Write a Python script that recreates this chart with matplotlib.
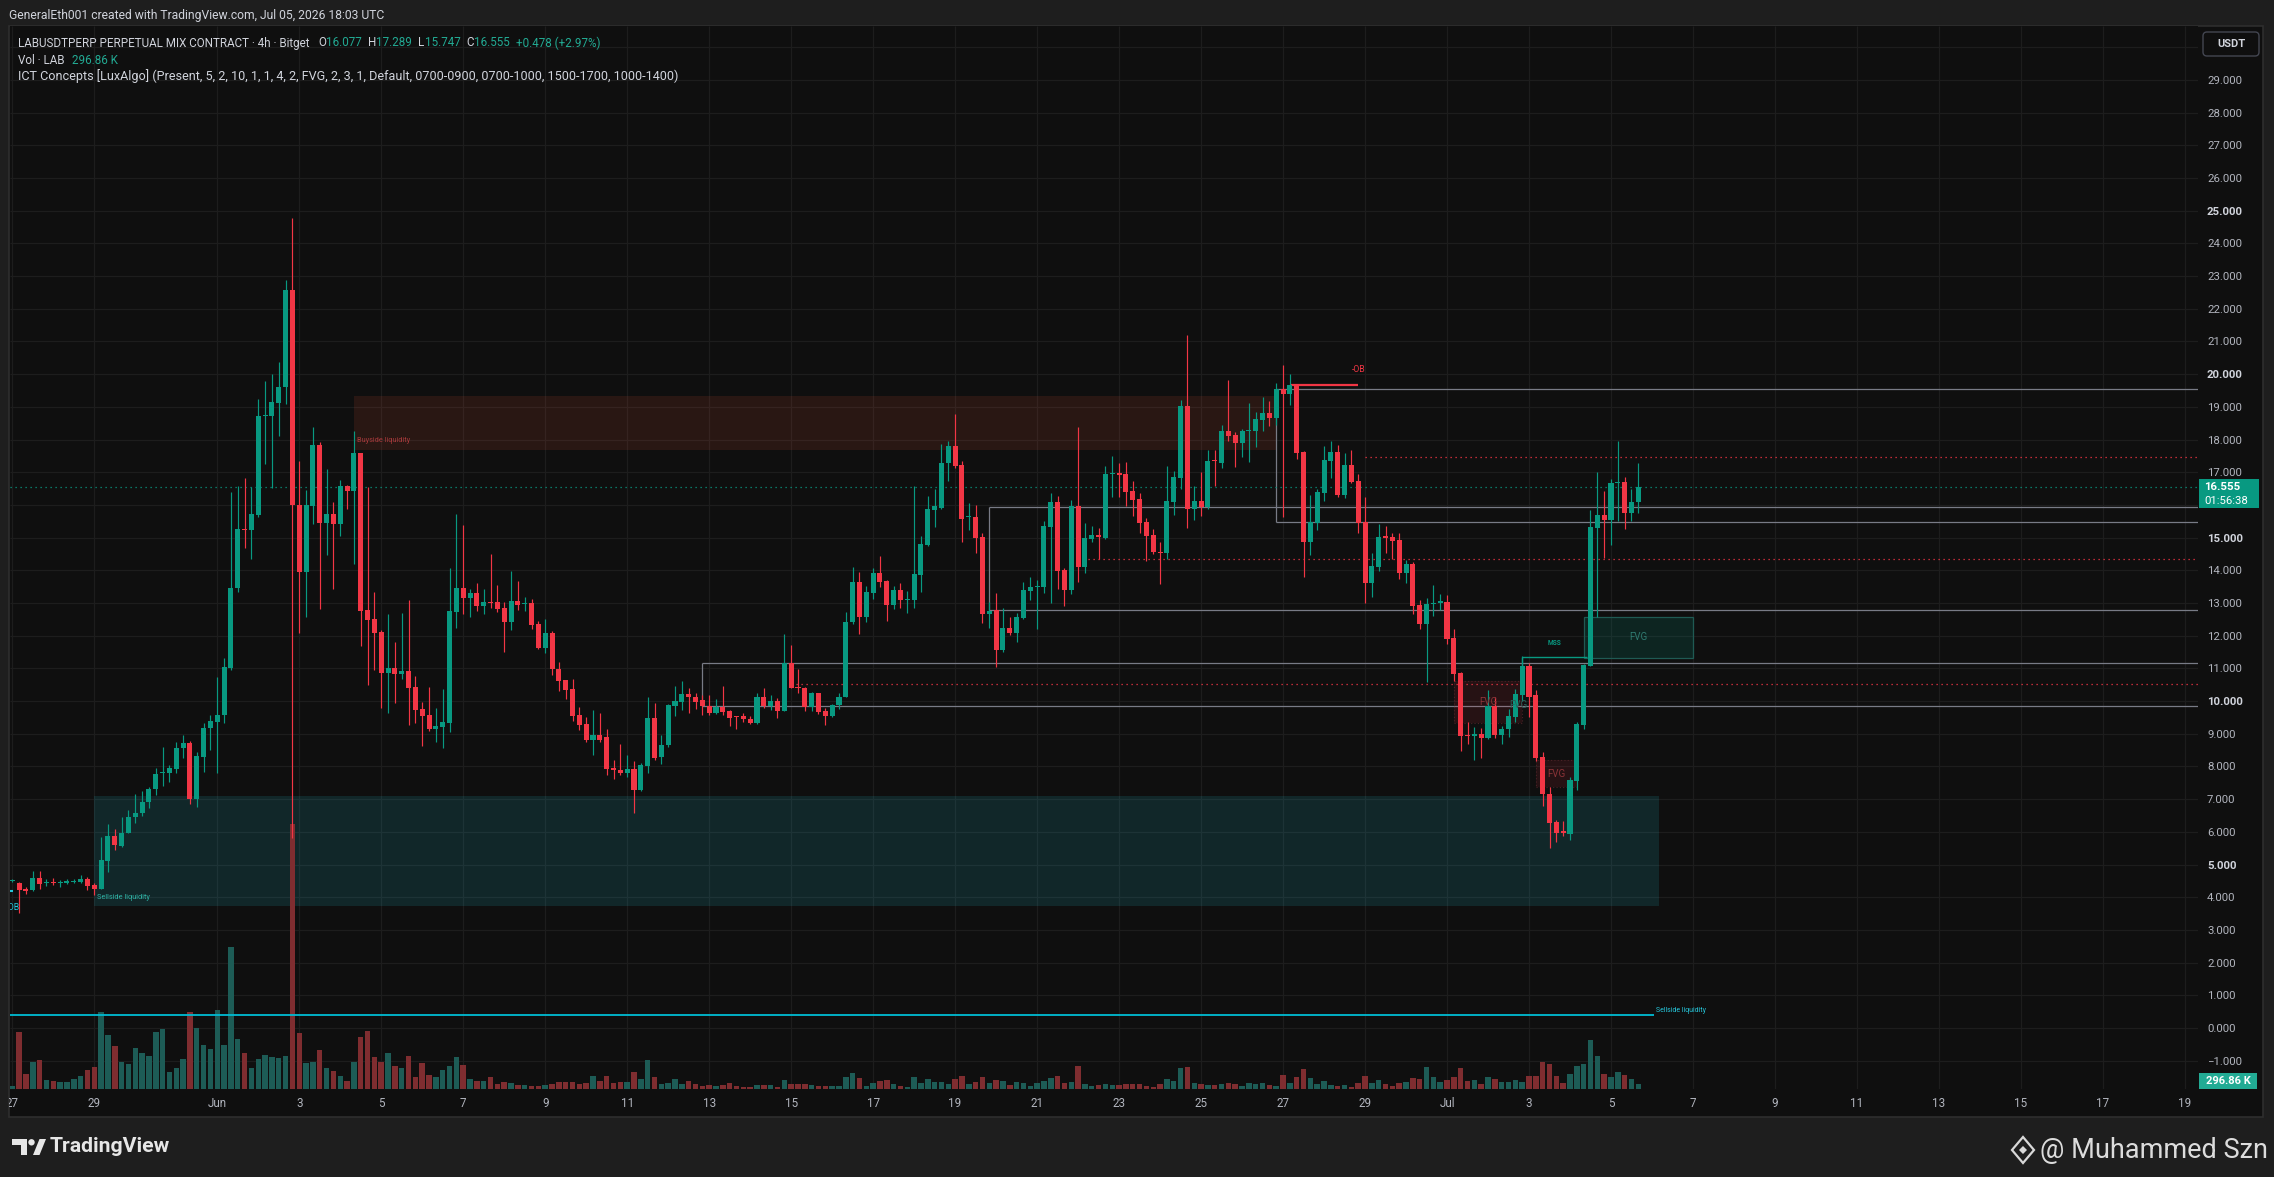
import matplotlib
matplotlib.use("Agg")
import matplotlib.pyplot as plt
import matplotlib.transforms as mtransforms
from matplotlib.patches import Rectangle, FancyBboxPatch, Polygon, Circle
import numpy as np
import pandas as pd

plt.rcParams['font.family'] = ['Roboto', 'DejaVu Sans']

W, H, DPI = 2274, 1177, 100

# ---------------- data (4h candles, LABUSDTPERP, Bitget) ----------------
start_time = "2026-05-27 00:00"

opens = [4.50, 4.45, 4.25, 4.21, 4.58, 4.44, 4.47, 4.43, 4.45, 4.46,
         4.47, 4.57, 4.38, 4.26, 5.12, 5.88, 5.58, 5.98, 6.44, 6.58,
         6.90, 7.30, 7.80, 7.79, 7.93, 8.55, 8.72, 7.02, 8.30, 9.19,
         9.37, 9.56, 11.02, 13.46, 15.25, 15.22, 15.70, 18.71, 18.73, 19.13,
         19.60, 22.57, 16.01, 13.95, 15.97, 17.83, 15.45, 15.73, 15.41, 16.57,
         16.43, 17.59, 12.78, 12.51, 12.11, 10.86, 11.00, 10.83, 10.92, 10.42,
         9.76, 9.58, 9.14, 9.21, 9.32, 12.72, 13.46, 13.14, 13.30, 12.92,
         13.04, 13.02, 12.85, 12.43, 13.06, 12.97, 12.99, 12.37, 11.63, 12.07,
         10.97, 10.63, 10.37, 9.56, 9.30, 8.81, 8.95, 8.90, 7.95, 7.90,
         7.79, 7.91, 7.28, 8.00, 9.48, 8.28, 8.65, 9.86, 9.97, 10.23,
         10.14, 10.02, 9.86, 9.63, 9.81, 9.69, 9.53, 9.53, 9.44, 9.32,
         10.14, 9.86, 10.00, 9.70, 11.18, 10.42, 10.39, 9.81, 10.25, 9.69,
         9.55, 9.88, 10.14, 12.41, 13.64, 12.57, 13.30, 13.92, 13.66, 12.93,
         13.39, 13.09, 13.09, 13.85, 14.78, 15.85, 15.92, 17.27, 17.80, 17.22,
         15.63, 15.64, 15.01, 12.65, 12.78, 11.57, 12.23, 12.07, 12.55, 13.37,
         13.48, 13.48, 15.32, 16.08, 14.00, 13.39, 15.96, 14.09, 14.97, 15.08,
         15.00, 16.94, 16.97, 16.94, 16.43, 16.18, 15.48, 15.08, 14.57, 14.52,
         16.08, 16.81, 19.03, 15.87, 16.11, 15.94, 17.36, 17.27, 18.25, 18.13,
         17.89, 18.25, 18.25, 18.60, 18.80, 18.66, 19.54, 19.40, 19.66, 17.62,
         14.88, 15.45, 16.36, 17.34, 17.62, 16.30, 17.22, 16.73, 15.48, 13.60,
         14.09, 15.03, 15.01, 14.92, 13.92, 14.18, 12.93, 12.35, 12.97, 12.99,
         13.04, 11.92, 10.86, 8.95, 8.93, 9.00, 8.86, 9.86, 8.97, 9.14,
         9.51, 10.18, 11.07, 10.18, 8.28, 7.17, 6.30, 6.02, 5.93, 7.55,
         9.28, 11.07, 15.29, 15.69, 15.53, 16.67, 16.69, 15.74, 16.077]

highs = [4.55, 4.47, 4.31, 4.80, 4.80, 4.56, 4.58, 4.52, 4.56, 4.56,
         4.68, 4.63, 4.44, 5.84, 6.23, 6.09, 6.45, 6.67, 7.16, 7.25,
         7.37, 7.95, 8.61, 8.04, 8.76, 8.95, 8.77, 8.44, 9.32, 9.56,
         10.74, 11.32, 16.40, 16.59, 16.82, 16.55, 19.24, 19.78, 19.99, 20.36,
         22.87, 24.77, 17.34, 16.45, 18.38, 17.92, 17.10, 16.08, 16.76, 16.62,
         18.26, 17.59, 16.55, 13.34, 12.16, 12.65, 11.81, 12.69, 13.09, 10.76,
         9.97, 10.42, 9.79, 10.37, 14.06, 15.73, 15.38, 13.43, 13.60, 13.43,
         14.50, 13.55, 13.02, 13.97, 13.67, 13.18, 13.13, 12.44, 12.51, 12.13,
         11.20, 10.63, 10.67, 9.81, 9.51, 9.72, 9.63, 9.14, 8.19, 8.68,
         8.35, 8.17, 8.11, 10.14, 9.93, 8.95, 9.90, 10.46, 10.62, 10.39,
         10.26, 10.18, 10.18, 10.06, 10.46, 9.74, 9.55, 9.63, 9.55, 10.25,
         10.39, 10.18, 10.09, 12.04, 11.71, 10.99, 10.42, 10.27, 10.25, 9.79,
         9.91, 10.25, 12.72, 14.09, 13.94, 13.51, 14.06, 14.43, 13.71, 13.51,
         13.60, 13.36, 16.57, 15.04, 16.27, 16.48, 17.85, 17.96, 18.78, 17.34,
         16.06, 16.00, 15.15, 13.02, 13.30, 12.86, 12.57, 12.69, 13.64, 13.79,
         13.71, 15.50, 16.36, 16.27, 14.06, 16.15, 18.38, 15.45, 15.36, 15.29,
         17.18, 17.50, 17.27, 17.31, 16.73, 16.36, 15.60, 15.25, 14.87, 17.18,
         17.03, 19.20, 21.19, 16.57, 17.01, 17.68, 17.68, 18.45, 19.82, 18.22,
         18.33, 19.11, 18.83, 19.29, 19.17, 19.73, 20.27, 19.99, 19.69, 17.66,
         16.30, 16.48, 17.80, 17.96, 17.83, 17.59, 17.68, 16.94, 16.23, 14.53,
         15.41, 15.36, 15.13, 15.13, 14.32, 14.25, 13.09, 13.14, 13.55, 13.27,
         13.23, 12.21, 10.88, 9.35, 9.20, 9.18, 10.34, 10.11, 9.23, 9.76,
         10.37, 11.37, 11.18, 10.35, 8.44, 7.37, 6.37, 6.33, 7.68, 9.37,
         11.13, 15.83, 17.01, 16.43, 16.80, 17.96, 16.85, 16.48, 17.289]

lows = [4.48, 3.51, 4.10, 4.18, 4.25, 4.35, 4.38, 4.30, 4.42, 4.43,
        4.43, 4.21, 4.07, 4.24, 4.77, 5.44, 5.54, 5.96, 6.28, 6.49,
        6.72, 7.14, 7.39, 7.54, 7.81, 8.25, 6.84, 6.75, 7.84, 8.51,
        7.79, 9.34, 10.95, 13.34, 14.67, 14.36, 15.62, 17.24, 16.52, 18.12,
        19.10, 5.80, 12.07, 12.58, 15.41, 12.81, 14.46, 13.43, 15.04, 15.87,
        14.18, 11.69, 10.48, 10.95, 9.79, 9.63, 9.95, 10.67, 9.27, 9.32,
        8.62, 9.09, 8.74, 8.55, 9.04, 12.23, 12.65, 12.58, 12.76, 12.67,
        12.85, 12.72, 11.49, 12.16, 12.79, 12.76, 12.20, 11.58, 11.48, 10.79,
        10.32, 10.05, 9.39, 9.11, 8.74, 8.35, 8.74, 7.74, 7.62, 7.74,
        7.68, 6.58, 7.26, 7.79, 8.21, 8.07, 8.60, 9.55, 9.72, 9.63,
        9.76, 9.56, 9.58, 9.62, 9.56, 9.23, 9.14, 9.35, 9.30, 9.30,
        9.79, 9.74, 9.48, 9.69, 10.39, 10.25, 9.69, 9.69, 9.60, 9.28,
        9.51, 9.77, 10.11, 12.37, 12.06, 12.43, 13.11, 13.48, 12.44, 12.81,
        12.86, 12.69, 12.86, 13.34, 14.74, 15.32, 15.87, 16.73, 17.13, 14.87,
        15.24, 14.53, 12.39, 12.23, 11.04, 11.50, 12.02, 11.81, 12.51, 13.09,
        12.20, 13.30, 12.99, 13.43, 12.90, 13.27, 13.64, 13.92, 14.88, 14.34,
        14.95, 16.24, 16.24, 15.96, 15.66, 15.13, 14.29, 14.50, 13.58, 14.36,
        15.69, 16.48, 15.29, 15.53, 15.66, 15.87, 16.57, 17.13, 17.96, 17.15,
        17.46, 17.31, 17.76, 18.27, 18.41, 18.43, 15.62, 19.05, 17.39, 13.80,
        14.46, 15.23, 16.11, 16.81, 16.23, 16.20, 16.66, 15.13, 12.99, 13.18,
        13.97, 14.53, 14.36, 13.72, 13.62, 12.65, 12.21, 10.58, 12.60, 12.78,
        11.74, 10.62, 8.47, 8.70, 8.20, 8.25, 8.84, 8.88, 8.70, 8.91,
        9.37, 10.00, 9.51, 8.18, 6.79, 5.50, 5.68, 5.86, 5.75, 7.28,
        9.14, 11.07, 12.57, 14.37, 14.78, 15.50, 15.25, 15.50, 15.747]

closes = [4.52, 4.21, 4.18, 4.58, 4.42, 4.47, 4.44, 4.46, 4.47, 4.49,
          4.57, 4.35, 4.26, 5.14, 5.88, 5.61, 5.98, 6.45, 6.59, 6.91,
          7.30, 7.77, 7.81, 7.95, 8.56, 8.72, 7.02, 8.32, 9.19, 9.39,
          9.56, 11.04, 13.46, 15.25, 15.22, 15.73, 18.71, 18.73, 19.15, 19.61,
          22.57, 16.01, 13.95, 15.99, 17.83, 15.45, 15.73, 15.41, 16.57, 16.43,
          17.59, 12.76, 12.48, 12.07, 10.86, 11.00, 10.83, 10.92, 10.39, 9.72,
          9.55, 9.14, 9.23, 9.35, 12.76, 13.46, 13.16, 13.30, 12.90, 13.04,
          12.99, 12.83, 12.43, 13.06, 12.95, 13.00, 12.34, 11.63, 12.07, 10.97,
          10.62, 10.35, 9.55, 9.27, 8.81, 8.95, 8.81, 7.91, 7.88, 7.79,
          7.91, 7.28, 8.03, 9.48, 8.26, 8.65, 9.88, 10.00, 10.21, 10.13,
          9.97, 9.86, 9.63, 9.81, 9.67, 9.48, 9.51, 9.44, 9.32, 10.14,
          9.86, 10.00, 9.70, 11.18, 10.41, 10.40, 9.81, 10.25, 9.67, 9.55,
          9.88, 10.14, 12.41, 13.64, 12.57, 13.34, 13.92, 13.64, 12.93, 13.39,
          13.09, 13.11, 13.88, 14.80, 15.87, 15.96, 17.27, 17.80, 17.18, 15.57,
          15.66, 15.00, 12.65, 12.76, 11.57, 12.23, 12.07, 12.57, 13.39, 13.48,
          13.53, 15.36, 16.08, 13.97, 13.39, 15.96, 14.09, 14.99, 15.08, 15.01,
          16.94, 16.97, 16.92, 16.41, 16.15, 15.45, 15.04, 14.55, 14.52, 16.11,
          16.85, 19.03, 15.87, 16.11, 15.94, 17.34, 17.33, 18.25, 18.10, 17.89,
          18.25, 18.27, 18.62, 18.80, 18.66, 19.54, 19.40, 19.66, 17.59, 14.88,
          15.48, 16.39, 17.38, 17.62, 16.30, 17.22, 16.69, 15.46, 13.60, 14.13,
          15.01, 15.00, 14.90, 13.92, 14.18, 12.90, 12.35, 12.97, 13.00, 13.06,
          11.90, 10.83, 8.93, 8.92, 9.00, 8.86, 9.86, 8.97, 9.16, 9.55,
          10.21, 11.07, 10.14, 8.25, 7.17, 6.26, 5.98, 5.97, 7.58, 9.30,
          11.09, 15.32, 15.69, 15.53, 16.67, 16.69, 15.74, 16.077, 16.555]

# relative volume bar heights (last bar = 296.86K)
volume_units = [6, 99, 26, 47, 50, 15, 14, 12, 13, 17,
                22, 33, 38, 134, 94, 75, 47, 43, 71, 62,
                57, 99, 104, 29, 36, 52, 134, 106, 76, 69,
                137, 76, 247, 87, 62, 36, 52, 59, 55, 54,
                57, 461, 97, 45, 47, 68, 36, 31, 22, 14,
                47, 90, 101, 55, 47, 62, 40, 36, 57, 21,
                45, 24, 21, 33, 40, 55, 42, 17, 14, 14,
                21, 8, 12, 10, 7, 7, 5, 5, 7, 8,
                13, 12, 12, 8, 10, 22, 14, 22, 10, 12,
                12, 29, 17, 50, 21, 8, 10, 17, 8, 14,
                8, 5, 7, 5, 7, 10, 5, 3, 3, 7,
                7, 7, 3, 15, 8, 8, 8, 7, 5, 5,
                5, 5, 21, 28, 19, 5, 10, 14, 15, 8,
                5, 3, 21, 10, 17, 12, 12, 8, 17, 22,
                8, 12, 21, 10, 15, 14, 7, 12, 10, 5,
                10, 14, 19, 22, 10, 12, 40, 8, 5, 7,
                8, 7, 7, 8, 8, 8, 5, 3, 8, 17,
                14, 36, 38, 10, 8, 7, 7, 8, 10, 8,
                5, 10, 8, 10, 7, 5, 24, 10, 21, 35,
                19, 8, 14, 7, 5, 7, 3, 10, 22, 10,
                15, 8, 5, 10, 12, 19, 17, 38, 21, 12,
                15, 21, 36, 14, 15, 8, 21, 17, 12, 12,
                15, 12, 22, 22, 47, 43, 22, 10, 26, 40,
                43, 85, 57, 26, 21, 29, 24, 17, 8]

tick_dates = ["2026-05-27", "2026-05-29", "2026-06-01", "2026-06-03", "2026-06-05",
              "2026-06-07", "2026-06-09", "2026-06-11", "2026-06-13", "2026-06-15",
              "2026-06-17", "2026-06-19", "2026-06-21", "2026-06-23", "2026-06-25",
              "2026-06-27", "2026-06-29", "2026-07-01", "2026-07-03", "2026-07-05",
              "2026-07-07", "2026-07-09", "2026-07-11", "2026-07-13", "2026-07-15",
              "2026-07-17", "2026-07-19"]
tick_labels = ["27", "29", "Jun", "3", "5", "7", "9", "11", "13", "15", "17", "19",
               "21", "23", "25", "27", "29", "Jul", "3", "5", "7", "9", "11", "13",
               "15", "17", "19"]
price_ticks = list(range(-1, 30))
hidden_price_labels = [16]          # covered by the last-price tag

# ICT concepts drawings (time, price)
buyside_zone = ("2026-06-04 08:00", "2026-06-26 20:00", 17.69, 19.34)
sellside_zone = ("2026-05-29 00:00", "2026-07-06 04:00", 3.72, 7.09)
sellside_level = ("2026-07-06 01:00", 0.40)
bear_ob_line = ("2026-06-27 04:00", "2026-06-28 20:00", 19.68)
grey_boxes = [("2026-06-26 20:00", 15.48, 19.54),
              ("2026-06-19 20:00", 12.78, 15.95),
              ("2026-06-12 20:00", 9.86, 11.18)]
red_dotted_levels = [("2026-06-15 00:00", 10.53),
                     ("2026-06-22 00:00", 14.36),
                     ("2026-06-29 00:00", 17.48)]
bull_fvg = ("2026-07-04 08:00", "2026-07-07 00:00", 11.32, 12.57)
bear_fvgs = [("2026-07-01 04:00", "2026-07-02 20:00", 9.33, 10.62),
             ("2026-07-03 04:00", "2026-07-04 04:00", 7.37, 8.19)]
mss_line = ("2026-07-02 20:00", "2026-07-04 10:00", 11.35, 11.07)
bull_ob_left = 4.20
last_price = 16.555

# ---------------- helpers ----------------
t0 = pd.Timestamp(start_time)
bar = pd.Timedelta(hours=4)


def xt(ts):
    return (pd.Timestamp(ts) - t0) / bar


times = pd.date_range(start_time, periods=len(opens), freq="4h")
x = np.asarray((times - t0) / bar, dtype=float)
O = np.array(opens); Hh = np.array(highs); Lw = np.array(lows); C = np.array(closes)
V = np.array(volume_units, dtype=float)

BULL, BEAR = '#089981', '#f23645'
VBULL, VBEAR = '#1d5c56', '#7f2d30'
BG, OUTER = '#0f0f0f', '#1e1e1e'
GRID = '#1d1d1d'
TXT = '#d1d4dc'
AXTXT = '#b2b5be'
TEAL_TXT = '#22ab94'

fig = plt.figure(figsize=(W / DPI, H / DPI), dpi=DPI, facecolor=OUTER)

# background / frame layer (pixel coordinates)
bgax = fig.add_axes([0, 0, 1, 1], zorder=-5)
bgax.set_xlim(0, W); bgax.set_ylim(H, 0); bgax.axis('off')
frame = Rectangle((9, 26), 2254, 1091, facecolor=BG, edgecolor='#2e2e2e', lw=1.2)
bgax.add_patch(frame)

# main chart axes
PL, PR, PT, PB = 10, 2198, 26, 1089
ax = fig.add_axes([PL / W, 1 - PB / H, (PR - PL) / W, (PB - PT) / H], zorder=1)
ax.set_facecolor(BG)
vax = ax.twinx()
vax.set_ylim(0, 1852)
vax.axis('off')

XL = (-0.337, 319.92)
YL = (-1.866, 30.65)
ax.set_xlim(*XL)
ax.set_ylim(*YL)
ax.set_autoscale_on(False)

tick_x = [xt(d) for d in tick_dates]

# grid
ax.hlines(np.arange(-1, 31), XL[0], XL[1], color=GRID, lw=0.9, zorder=0)
ax.vlines(tick_x, YL[0], YL[1], color=GRID, lw=0.9, zorder=0)

# zones
bz0, bz1, blo, bhi = buyside_zone
ax.add_patch(Rectangle((xt(bz0), blo), xt(bz1) - xt(bz0), bhi - blo,
                       facecolor='#ff5a3c', alpha=0.11, lw=0, zorder=1))
ax.text(xt(bz0) + 0.4, blo + 0.27, "Buyside liquidity", color='#a8393b', fontsize=5.3,
        ha='left', va='center', zorder=6)
sz0, sz1, slo, shi = sellside_zone
ax.add_patch(Rectangle((xt(sz0), slo), xt(sz1) - xt(sz0), shi - slo,
                       facecolor='#23d7eb', alpha=0.12, lw=0, zorder=1))
ax.text(xt(sz0) + 0.4, slo + 0.26, "Sellside liquidity", color='#2fb3a6', fontsize=5.3,
        ha='left', va='center', zorder=6)

# volume (own scale on the twin axes)
vtrans = mtransforms.blended_transform_factory(ax.transData, vax.transData)
up = C >= O
ax.bar(x, V, width=0.8, bottom=0, color=np.where(up, VBULL, VBEAR), lw=0,
       transform=vtrans, zorder=2)

# sellside liquidity level
sl_t, sl_p = sellside_level
ax.hlines(sl_p, XL[0], xt(sl_t), color='#00bcd4', lw=1.3, zorder=3)
ax.text(xt(sl_t) + 0.3, sl_p + 0.03, "Sellside liquidity", color='#26c6da', fontsize=5.0,
        ha='left', va='bottom', zorder=6)

# grey structure boxes
for ts, lo, hi in grey_boxes:
    xs = xt(ts)
    ax.vlines(xs, lo, hi, color='#787b86', lw=0.9, zorder=3)
    ax.hlines([lo, hi], xs, XL[1], color='#787b86', lw=0.9, zorder=3)

# red dotted levels
for ts, p in red_dotted_levels:
    ax.hlines(p, xt(ts), XL[1], color=BEAR, lw=0.9, linestyles=(0, (1, 3)), zorder=3)

# bearish OB
ob0, ob1, obp = bear_ob_line
ax.hlines(obp, xt(ob0), xt(ob1), color=BEAR, lw=1.6, zorder=3)
ax.text(xt(ob1), obp + 0.45, "-OB", color=BEAR, fontsize=6.2, ha='center', va='center', zorder=6)

# left bullish OB marker
ax.hlines(bull_ob_left, XL[0], 0.15, color='#26c6da', lw=1.5, zorder=3)
ax.text(1.15, bull_ob_left - 0.5, "+OB", color='#26c6da', fontsize=6.2, ha='right',
        va='center', zorder=6, clip_on=True)

# FVGs
f0, f1, flo, fhi = bull_fvg
ax.add_patch(Rectangle((xt(f0), flo), xt(f1) - xt(f0), fhi - flo, facecolor='#089981',
                       alpha=0.16, edgecolor='none', zorder=3))
ax.add_patch(Rectangle((xt(f0), flo), xt(f1) - xt(f0), fhi - flo, facecolor='none',
                       edgecolor='#1f5a53', lw=0.9, zorder=3))
ax.text((xt(f0) + xt(f1)) / 2, (flo + fhi) / 2, "FVG", color='#2f7a70', fontsize=7,
        ha='center', va='center', zorder=6)
for a0, a1, lo, hi in bear_fvgs:
    ax.add_patch(Rectangle((xt(a0), lo), xt(a1) - xt(a0), hi - lo, facecolor='#f23645',
                           alpha=0.10, edgecolor='none', zorder=3))
    ax.add_patch(Rectangle((xt(a0), lo), xt(a1) - xt(a0), hi - lo, facecolor='none',
                           edgecolor='#4a2226', lw=0.8, linestyle=(0, (1, 2)), zorder=3))
    ax.text((xt(a0) + xt(a1)) / 2, (lo + hi) / 2, "FVG", color='#8a3337', fontsize=7,
            ha='center', va='center', zorder=6)
ax.text(xt(bear_fvgs[0][1]) - 0.6, 9.88, "FVG", color='#2a5f58', fontsize=7,
        ha='center', va='center', zorder=6)

# MSS
m0, m1, mp, mlow = mss_line
ax.hlines(mp, xt(m0), xt(m1), color='#089981', lw=1.0, zorder=3)
ax.vlines(xt(m0), mlow, mp, color='#089981', lw=1.0, zorder=3)
ax.text((xt(m0) + xt(m1)) / 2, mp + 0.43, "MSS", color='#089981', fontsize=4.8,
        fontweight='bold', ha='center', va='center', zorder=6)

# last price dotted line
ax.hlines(last_price, XL[0], XL[1], color=BULL, lw=0.9, linestyles=(0, (1, 3)), zorder=3.5)

# candles
ccol = np.where(up, BULL, BEAR)
ax.vlines(x, Lw, Hh, colors=ccol, lw=0.85, zorder=4)
body_lo = np.minimum(O, C)
body_h = np.maximum(np.abs(C - O), 0.035)
ax.bar(x, body_h, bottom=body_lo, width=0.74, color=ccol, lw=0, zorder=5)

# axes styling
for s in ax.spines.values():
    s.set_visible(False)
ax.yaxis.tick_right()
shown = [v for v in price_ticks if v not in hidden_price_labels]
ax.set_yticks(shown)
ax.set_yticklabels([f"{v:.3f}".replace('-', '\u2212') for v in shown])
ax.tick_params(axis='y', length=0, pad=6.5, labelsize=8.2, labelcolor=AXTXT)
for lab, v in zip(ax.get_yticklabels(), shown):
    if v % 5 == 0 and v != 0:
        lab.set_fontweight('bold')
        lab.set_color(TXT)
ax.set_xticks(tick_x)
ax.set_xticklabels(tick_labels)
ax.tick_params(axis='x', length=0, pad=5.6, labelsize=8.4, labelcolor=AXTXT)
try:
    ax.get_xticklabels()[0].set_clip_path(frame)
except Exception:
    pass

# ---------------- foreground overlay (pixel coordinates) ----------------
fg = fig.add_axes([0, 0, 1, 1], zorder=10)
fg.set_xlim(0, W); fg.set_ylim(H, 0); fg.axis('off'); fg.patch.set_visible(False)
renderer = fig.canvas.get_renderer()


def seq_text(x0, y0, parts, size, weight='normal'):
    xx = x0
    for s, col, gap in parts:
        t = fg.text(xx, y0, s, color=col, fontsize=size, ha='left', va='center',
                    fontweight=weight)
        bb = t.get_window_extent(renderer)
        xx += bb.width + gap


fg.text(9, 15, "GeneralEth001 created with TradingView.com, Jul 05, 2026 18:03 UTC",
        color=TXT, fontsize=8.75, ha='left', va='center')
seq_text(18, 43, [("LABUSDTPERP PERPETUAL MIX CONTRACT \u00b7 4h \u00b7 Bitget", TXT, 9),
                  ("O", TXT, 0), ("16.077", TEAL_TXT, 6),
                  ("H", TXT, 0), ("17.289", TEAL_TXT, 6),
                  ("L", TXT, 0), ("15.747", TEAL_TXT, 6),
                  ("C", TXT, 0), ("16.555", TEAL_TXT, 6),
                  ("+0.478 (+2.97%)", TEAL_TXT, 0)], 8.4)
seq_text(18, 60, [("Vol \u00b7 LAB", TXT, 7), ("296.86 K", TEAL_TXT, 0)], 8.4)
fg.text(18, 76, "ICT Concepts [LuxAlgo] (Present, 5, 2, 10, 1, 1, 4, 2, FVG, 2, 3, 1, Default, "
        "0700-0900, 0700-1000, 1500-1700, 1000-1400)", color=TXT, fontsize=9.05,
        ha='left', va='center')

# USDT box
fg.add_patch(FancyBboxPatch((2203, 32), 56, 24, boxstyle="round,pad=0,rounding_size=4",
                            facecolor=BG, edgecolor='#434651', lw=1.0))
fg.text(2231, 44, "USDT", color=TXT, fontsize=8.0, fontweight='bold', ha='center', va='center')

# last price tag
fg.add_patch(Rectangle((2199, 479), 60, 29, facecolor=BULL, edgecolor='none'))
fg.text(2204, 486.5, "16.555", color='white', fontsize=8.2, fontweight='bold',
        ha='left', va='center')
fg.text(2204, 501, "01:56:38", color='white', fontsize=8.2, ha='left', va='center')

# volume tag
fg.add_patch(Rectangle((2199, 1073), 58, 16, facecolor='#22ab94', edgecolor='none'))
fg.text(2228, 1081, "296.86 K", color='white', fontsize=8.0, fontweight='bold',
        ha='center', va='center')

# footer: TradingView logo
fg.add_patch(Polygon([(12, 1139), (27, 1139), (27, 1155), (21, 1155), (21, 1145), (12, 1145)],
                     closed=True, facecolor='#e6e6e6', edgecolor='none'))
fg.add_patch(Circle((31.5, 1142.3), 3.2, facecolor='#e6e6e6', edgecolor='none'))
fg.add_patch(Polygon([(33, 1155), (39.5, 1139), (46, 1139), (39.5, 1155)], closed=True,
                     facecolor='#e6e6e6', edgecolor='none'))
fg.text(50, 1147, "TradingView", color='#e6e6e6', fontsize=15.3, fontweight='bold',
        ha='left', va='center')

# footer: author watermark (right aligned, icon placed before the text)
wm = fg.text(2268, 1150, "@ Muhammed Szn", color='#dcdcdc', fontsize=19.5,
             ha='right', va='center')
wbb = wm.get_window_extent(renderer)
cx, cy = wbb.x0 - 17, 1150
fg.add_patch(Polygon([(cx, cy - 13), (cx + 11, cy), (cx, cy + 13), (cx - 11, cy)], closed=True,
                     facecolor='none', edgecolor='#d8d8d8', lw=1.6))
fg.add_patch(Polygon([(cx, cy - 4), (cx + 4, cy), (cx, cy + 4), (cx - 4, cy)], closed=True,
                     facecolor='#d8d8d8', edgecolor='none'))

fig.savefig("out.png", dpi=DPI, facecolor=OUTER)
